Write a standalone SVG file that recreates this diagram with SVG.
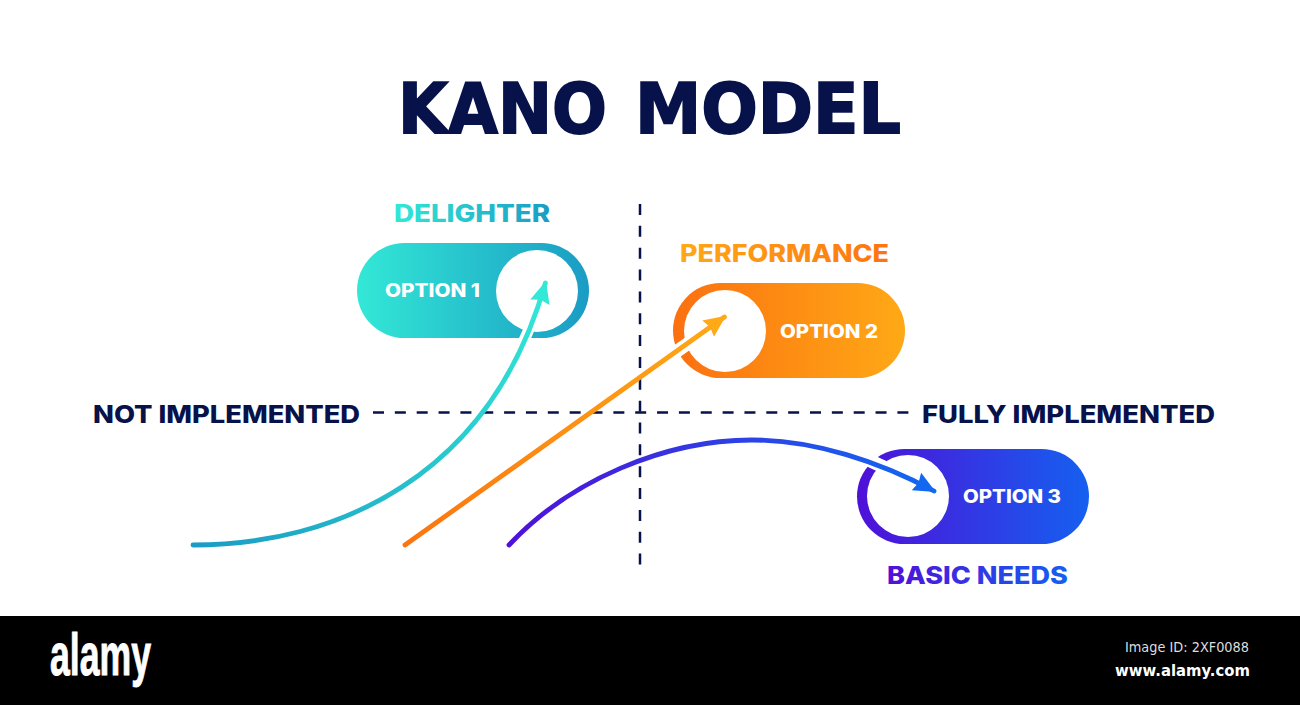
<svg xmlns="http://www.w3.org/2000/svg" width="1300" height="705" viewBox="0 0 1300 705">
<style>
text{font-family:Inter,"Liberation Sans",sans-serif}
.ttl{font-size:70px;font-weight:700;fill:#07124a;stroke:#07124a;stroke-width:1.8;font-family:"DejaVu Sans",sans-serif}
.axis{font-size:24px;font-weight:800;fill:#07124a}
.cat{font-size:24px;font-weight:800}
.opt{font-size:18.5px;font-weight:800;fill:#fff}
.dash{stroke:#07124a;stroke-width:2.5;fill:none;stroke-dasharray:11 10.85}
.curve{fill:none;stroke-width:4.8;stroke-linecap:round}
.halo{fill:none;stroke:#fff;stroke-width:13}
</style>
<defs>
<linearGradient id="gt" x1="0" x2="1" y1="0" y2="0"><stop offset="0" stop-color="#33e8d6"/><stop offset="1" stop-color="#1a9cc4"/></linearGradient>
<linearGradient id="go" x1="0" x2="1" y1="0" y2="0"><stop offset="0" stop-color="#fb7010"/><stop offset="1" stop-color="#ffa916"/></linearGradient>
<linearGradient id="gb" x1="0" x2="1" y1="0" y2="0"><stop offset="0" stop-color="#4f10d8"/><stop offset="1" stop-color="#1560f0"/></linearGradient>
<linearGradient id="got" x1="0" x2="1" y1="0" y2="0"><stop offset="0" stop-color="#ffa916"/><stop offset="1" stop-color="#fb7510"/></linearGradient>
<linearGradient id="ct" gradientUnits="userSpaceOnUse" x1="193" y1="545" x2="546" y2="285"><stop offset="0" stop-color="#1a9cc4"/><stop offset="1" stop-color="#33e8d6"/></linearGradient>
<linearGradient id="co" gradientUnits="userSpaceOnUse" x1="405" y1="545" x2="725" y2="317"><stop offset="0" stop-color="#fb7510"/><stop offset="1" stop-color="#ffa916"/></linearGradient>
<linearGradient id="cb" gradientUnits="userSpaceOnUse" x1="509" y1="545" x2="936" y2="491"><stop offset="0" stop-color="#4f10d8"/><stop offset="1" stop-color="#1268f0"/></linearGradient>
<marker id="mt" markerUnits="userSpaceOnUse" viewBox="0 0 22 20" refX="20" refY="10" markerWidth="22" markerHeight="20" orient="auto"><path d="M0 0L22 10L0 20L2.5 10Z" fill="#33e8d6"/></marker>
<marker id="mo" markerUnits="userSpaceOnUse" viewBox="0 0 22 20" refX="20" refY="10" markerWidth="22" markerHeight="20" orient="auto"><path d="M0 0L22 10L0 20L2.5 10Z" fill="#ffa916"/></marker>
<marker id="mb" markerUnits="userSpaceOnUse" viewBox="0 0 22 20" refX="20" refY="10" markerWidth="22" markerHeight="20" orient="auto"><path d="M0 0L22 10L0 20L2.5 10Z" fill="#1268f0"/></marker>
</defs>
<rect width="1300" height="705" fill="#fff"/>
<text class="ttl" x="398" y="132.5" textLength="209" lengthAdjust="spacingAndGlyphs">KANO</text>
<text class="ttl" x="635" y="132.5" textLength="266" lengthAdjust="spacingAndGlyphs">MODEL</text>
<g id="axes">
<path class="dash" d="M373 412.5H911"/>
<path class="dash" d="M640 204V567"/>
<text class="axis" x="93" y="423" textLength="267" lengthAdjust="spacingAndGlyphs">NOT IMPLEMENTED</text>
<text class="axis" x="922" y="423" textLength="293" lengthAdjust="spacingAndGlyphs">FULLY IMPLEMENTED</text>
</g>
<g id="node-delighter">
<text class="cat" x="394" y="222" fill="url(#gt)" textLength="156" lengthAdjust="spacingAndGlyphs">DELIGHTER</text>
<rect x="357" y="243" width="232" height="95" rx="47.5" fill="url(#gt)"/>
<circle cx="537" cy="291" r="41" fill="#fff"/>
<text class="opt" x="385" y="297" textLength="95" lengthAdjust="spacingAndGlyphs">OPTION 1</text>
</g>
<g id="node-performance">
<text class="cat" x="680" y="262" fill="url(#got)" textLength="209" lengthAdjust="spacingAndGlyphs">PERFORMANCE</text>
<rect x="673" y="283" width="232" height="95" rx="47.5" fill="url(#go)"/>
<circle cx="725" cy="331" r="41" fill="#fff"/>
<text class="opt" x="780" y="337.5" textLength="98" lengthAdjust="spacingAndGlyphs">OPTION 2</text>
</g>
<g id="node-basic-needs">
<rect x="857" y="449" width="232" height="95" rx="47.5" fill="url(#gb)"/>
<circle cx="908" cy="496" r="41" fill="#fff"/>
<text class="opt" x="963" y="503" textLength="98" lengthAdjust="spacingAndGlyphs">OPTION 3</text>
<text class="cat" x="887" y="584" fill="url(#gb)" textLength="181" lengthAdjust="spacingAndGlyphs">BASIC NEEDS</text>
</g>
<g id="connectors">
<path class="halo" style="stroke-width:11" d="M522 345L533 320"/>
<path class="halo" d="M672 354.8L696 337.7"/>
<path class="halo" d="M860 456L890 470"/>
<path class="curve" stroke="url(#ct)" marker-end="url(#mt)" d="M193 545C335 545 490 478 545.4 283"/>
<path class="curve" stroke="url(#co)" marker-end="url(#mo)" d="M405 545L724.4 317"/>
<path class="curve" stroke="url(#cb)" marker-end="url(#mb)" d="M509 545C570 480 665 440 752 440C815 440 880 462 934 491"/>
</g>
<g id="banner">
<rect y="616" width="1300" height="89" fill="#000"/>
<text x="50" y="675" font-size="60" font-weight="700" fill="#fff" stroke="#fff" stroke-width="1" textLength="101" lengthAdjust="spacingAndGlyphs" style="font-family:'Liberation Sans',sans-serif">alamy</text>
<text x="1125" y="652" font-size="14" fill="#ddd" textLength="124" lengthAdjust="spacingAndGlyphs" style="font-family:'DejaVu Sans',sans-serif">Image ID: 2XF0088</text>
<text x="1115" y="676" font-size="15" font-weight="700" fill="#fff" textLength="135" lengthAdjust="spacingAndGlyphs" style="font-family:'DejaVu Sans',sans-serif">www.alamy.com</text>
</g>
</svg>
